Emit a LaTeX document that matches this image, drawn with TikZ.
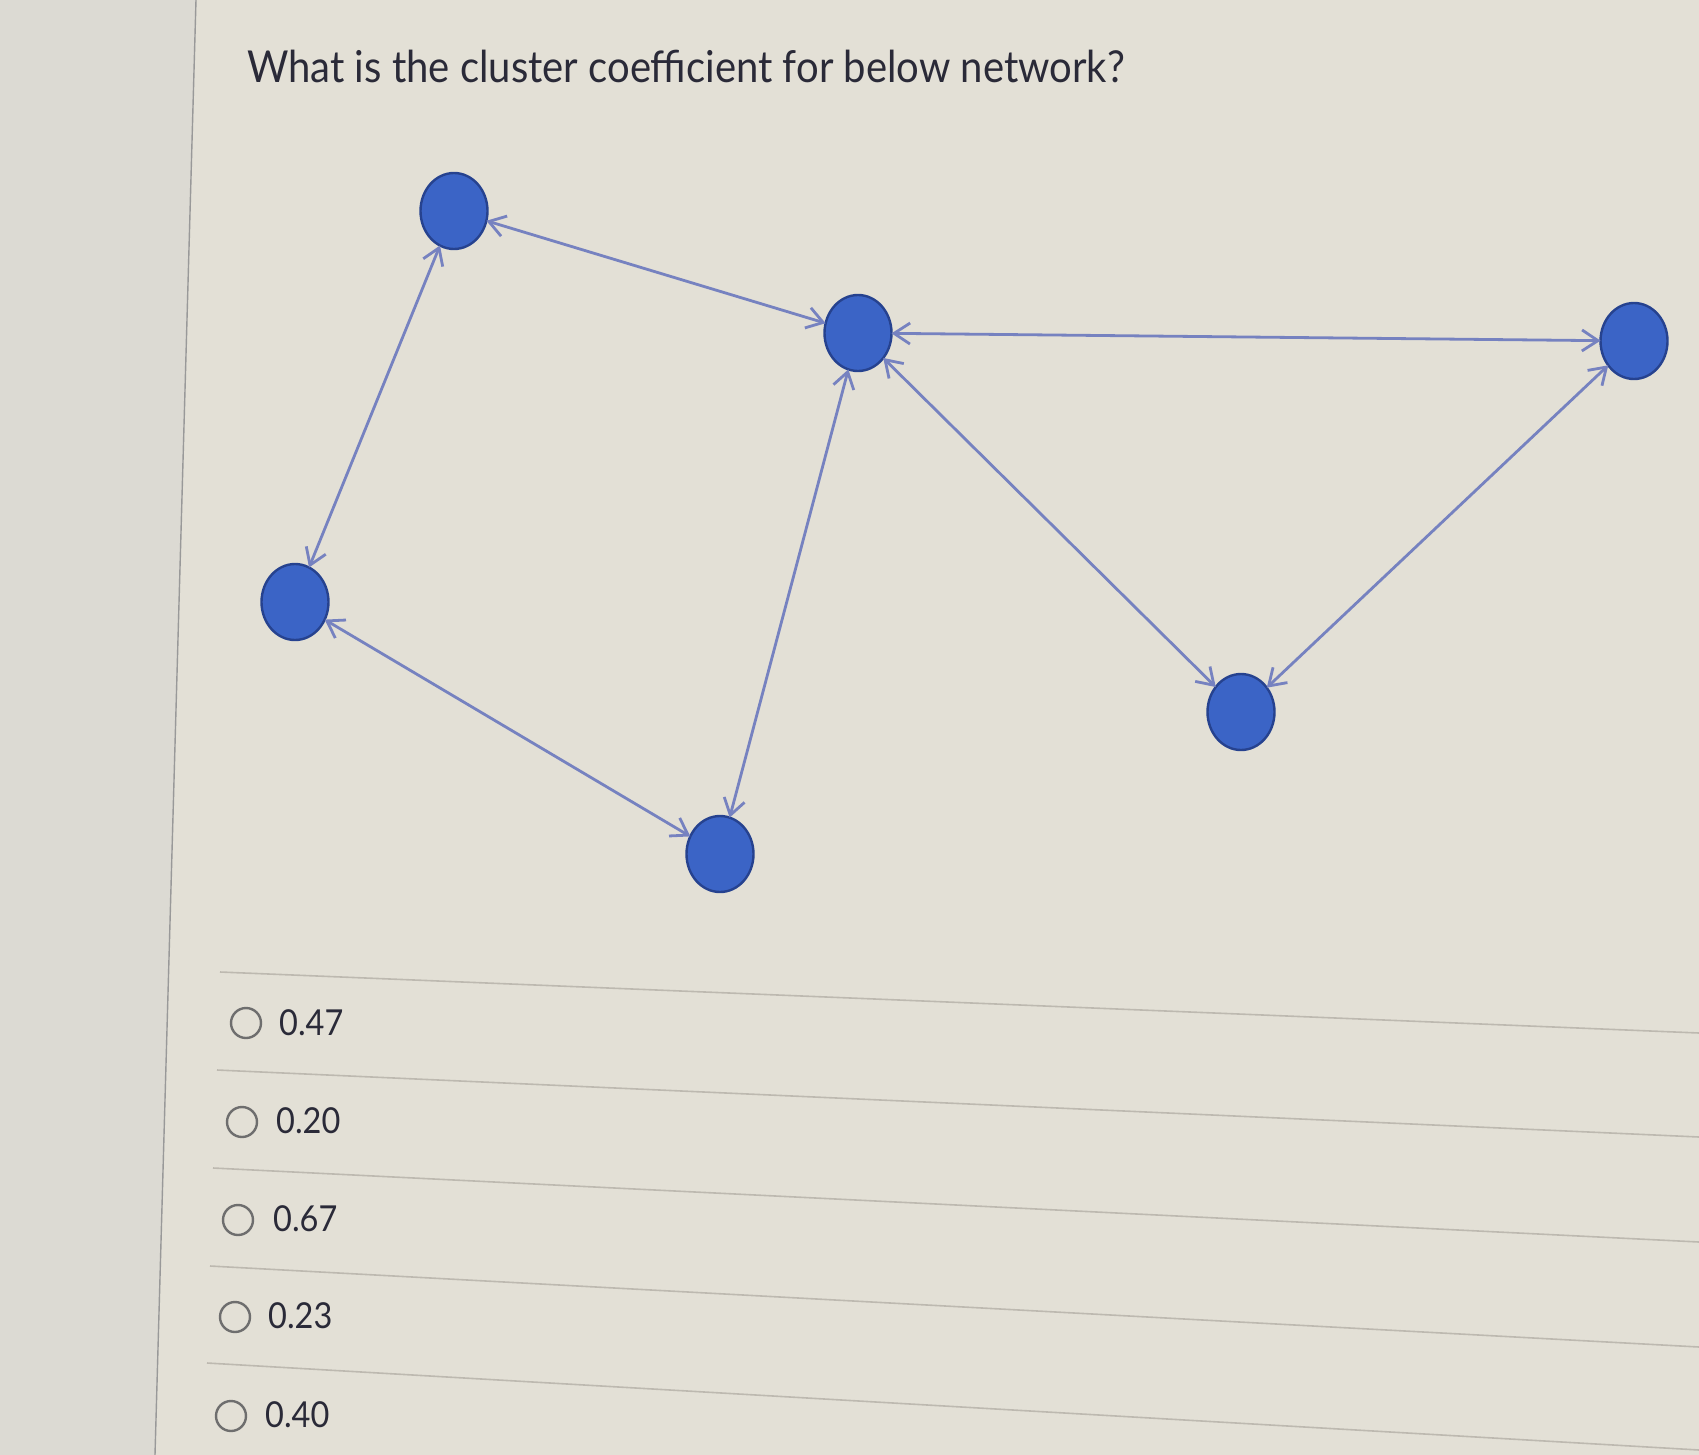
\documentclass[tikz,border=0pt]{standalone}
\usepackage{fontspec}
\setmainfont{Lato}
\usetikzlibrary{shapes.geometric,arrows.meta}
\definecolor{bgmain}{HTML}{E3E0D6}
\definecolor{bgleft}{HTML}{DCDAD3}
\definecolor{nodefill}{HTML}{3B64C6}
\definecolor{nodeedge}{HTML}{26428F}
\definecolor{edgecol}{HTML}{7682C0}
\definecolor{txt}{HTML}{2A2A38}
\definecolor{sepcol}{HTML}{BDB9B0}
\definecolor{radiocol}{HTML}{6E6E6E}
\tikzset{
  vtx/.style={ellipse, fill=nodefill, draw=nodeedge, line width=2.4pt,
    minimum width=67pt, minimum height=76pt, inner sep=0pt, outer sep=0pt},
  link/.style={draw=edgecol, line width=2.8pt,
    {Straight Barb[length=16pt,width=21pt]}-{Straight Barb[length=16pt,width=21pt]}},
  sepline/.style={draw=sepcol, line width=1.6pt},
  radio/.style={circle, draw=radiocol, line width=2.4pt, minimum size=30pt, inner sep=0pt},
  opt/.style={anchor=base west, inner sep=0pt, text=txt,
    font=\fontsize{32.5}{38}\selectfont},
}
\begin{document}
\begin{tikzpicture}[x=1pt,y=-1pt]
\useasboundingbox (0,0) rectangle (1699,1455);
\fill[bgmain] (0,0) rectangle (1699,1455);
\fill[bgleft] (0,0) -- (196,0) -- (155,1455) -- (0,1455) -- cycle;
\coordinate (vt) at (196,0);
\coordinate (vb) at (155,1455);
\draw[draw=gray!80, line width=1.4pt] (vt) -- (vb);

\node[anchor=base west, inner sep=0pt, text=txt, font=\fontsize{40}{48}\selectfont]
  (title) at (247,83) {\scalebox{1}[1.1]{What is the cluster coefficient for below network?}};

\node[vtx] (A) at (454,211) {};
\node[vtx] (B) at (858,333) {};
\node[vtx] (C) at (1634,341) {};
\node[vtx] (D) at (295,602) {};
\node[vtx] (E) at (1241,712) {};
\node[vtx] (F) at (720,854) {};

\draw[link] (A) -- (B);
\draw[link] (B) -- (C);
\draw[link] (A) -- (D);
\draw[link] (D) -- (F);
\draw[link] (F) -- (B);
\draw[link] (B) -- (E);
\draw[link] (E) -- (C);

\coordinate (s1a) at (220,972);  \coordinate (s1b) at (1699,1033);
\coordinate (s2a) at (217,1070); \coordinate (s2b) at (1699,1137);
\coordinate (s3a) at (213,1168); \coordinate (s3b) at (1699,1242);
\coordinate (s4a) at (210,1266); \coordinate (s4b) at (1699,1347);
\coordinate (s5a) at (207,1363); \coordinate (s5b) at (1699,1450);
\draw[sepline] (s1a) -- (s1b);
\draw[sepline] (s2a) -- (s2b);
\draw[sepline] (s3a) -- (s3b);
\draw[sepline] (s4a) -- (s4b);
\draw[sepline] (s5a) -- (s5b);

\node[radio] (r1) at (246,1023) {};
\node[radio] (r2) at (242,1122) {};
\node[radio] (r3) at (238,1220) {};
\node[radio] (r4) at (235,1317) {};
\node[radio] (r5) at (231,1416) {};
\node[opt] (o1) at (279,1035) {\scalebox{1}[1.1]{0.47}};
\node[opt] (o2) at (276,1133) {\scalebox{1}[1.1]{0.20}};
\node[opt] (o3) at (273,1231) {\scalebox{1}[1.1]{0.67}};
\node[opt] (o4) at (268,1328) {\scalebox{1}[1.1]{0.23}};
\node[opt] (o5) at (265,1427) {\scalebox{1}[1.1]{0.40}};
\end{tikzpicture}
\end{document}
